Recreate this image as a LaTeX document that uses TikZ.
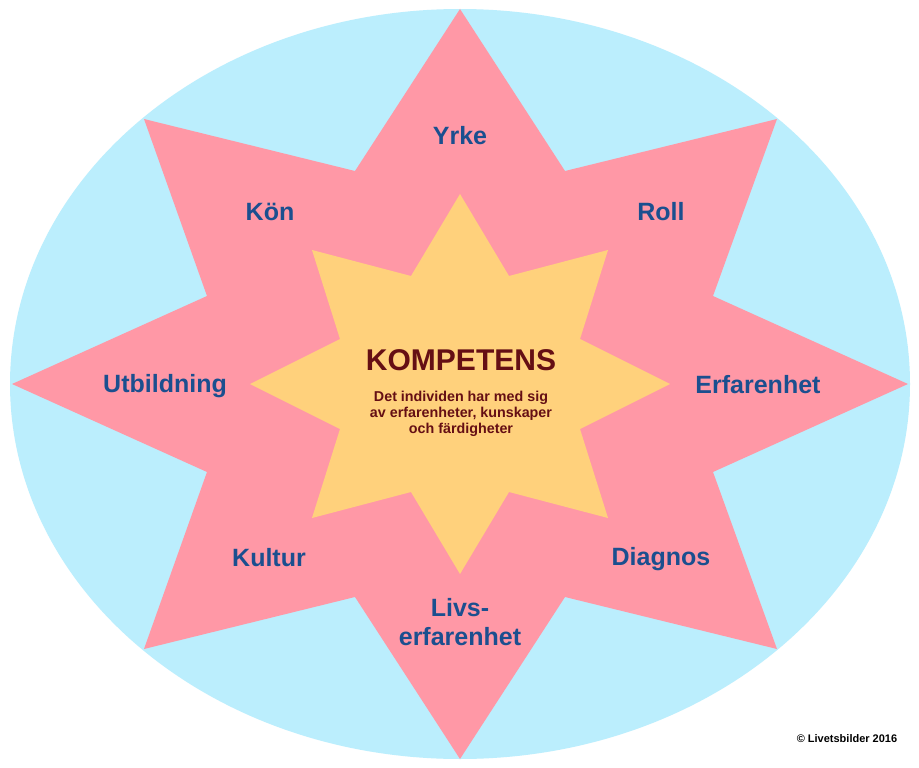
\documentclass[tikz,border=0pt]{standalone}
\usepackage{fontspec}
\setmainfont{Liberation Sans}
\usetikzlibrary{positioning}
\definecolor{skyfill}{HTML}{BBEEFD}
\definecolor{rosefill}{HTML}{FF98A6}
\definecolor{sunfill}{HTML}{FFD17C}
\definecolor{factorblue}{HTML}{1B4F8F}
\definecolor{titlered}{HTML}{650F14}
\begin{document}
\begin{tikzpicture}[x=1pt,y=-1pt]
  \tikzstyle{factor} = [text=factorblue, font=\fontsize{25}{29}\selectfont\bfseries, align=center, inner sep=0pt]
  \useasboundingbox (0,0) rectangle (919,768);
  \fill[white] (0,0) rectangle (919,768);
  \fill[skyfill] (460,384) ellipse [x radius=450, y radius=375];
  % outer star
  \fill[rosefill] (460,9) -- (565,171) -- (777,119) -- (713,296) -- (908,384)
    -- (713,472) -- (777,649) -- (565,597) -- (460,759) -- (355,597) -- (144,649)
    -- (207,472) -- (12,384) -- (207,296) -- (144,119) -- (355,171) -- cycle;
  % inner star
  \fill[sunfill] (460,194) -- (509,276) -- (608,250) -- (580,339) -- (670,384)
    -- (580,429) -- (608,518) -- (509,492) -- (460,574) -- (411,492) -- (312,518)
    -- (340,429) -- (250,384) -- (340,339) -- (312,250) -- (411,276) -- cycle;
  \node[factor] (yrke) at (460,136) {Yrke};
  \node[factor] (roll) at (661,212) {Roll};
  \node[factor] (erfarenhet) at (758,385) {Erfarenhet};
  \node[factor] (diagnos) at (661,559) {Diagnos};
  \node[factor] (livs) at (460,622) {Livs-\\erfarenhet};
  \node[factor] (kultur) at (269,558) {Kultur};
  \node[factor] (utbildning) at (165,386) {Utbildning};
  \node[factor] (kon) at (270,212) {Kön};
  \node[text=titlered, font=\fontsize{30}{32}\selectfont\bfseries, inner sep=0pt] (title) at (461,360) {KOMPETENS};
  \node[text=titlered, font=\fontsize{14.3}{15.7}\selectfont\bfseries, align=center, inner sep=0pt, below=20.5pt of title] (desc)
    {Det individen har med sig\\av erfarenheter, kunskaper\\och färdigheter};
  \node[font=\fontsize{11}{12}\selectfont\bfseries, text=black, inner sep=0pt] (credit) at (847,739) {© Livetsbilder 2016};
\end{tikzpicture}
\end{document}
